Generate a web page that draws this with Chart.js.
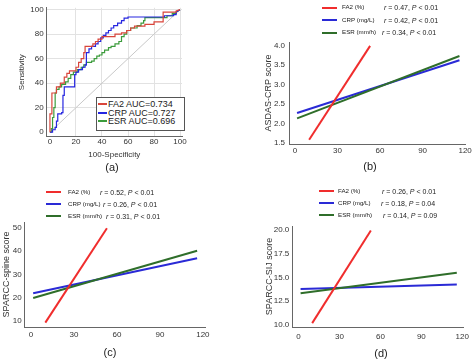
<!DOCTYPE html>
<html><head><meta charset="utf-8">
<script src="https://cdn.jsdelivr.net/npm/chart.js@4/dist/chart.umd.min.js"></script>
<style>
html,body{margin:0;padding:0;background:#fff;width:474px;height:359px;overflow:hidden;font-family:"Liberation Sans",Arial,sans-serif;}
canvas{position:absolute;left:0;top:0;}
.t{position:absolute;white-space:nowrap;color:#222;line-height:1;}
.c{transform:translate(-50%,-50%);}
.l{transform:translateY(-50%);}
.sw{position:absolute;height:1.5px;}
.box{position:absolute;border:1px solid #555;background:#fff;}
</style></head><body>
<canvas id="ca" width="474" height="359"></canvas>
<canvas id="cb" width="474" height="359"></canvas>
<canvas id="cc" width="474" height="359"></canvas>
<canvas id="cd" width="474" height="359"></canvas>
<div id="overlay"></div>
<script>
// ---------- DATA ----------
// Panel (a): ROC curves (x = 100-Specificity, y = Sensitivity)
const rocFA2X = [0,0,1.5,1.5,5,5,8,8,11,11,13,13,15,15,20,20,22,22,24,24,26,26,27,27,33,33,35,35,37,37,40,40,50,50,55,55,59,59,62,62,65,65,73,73,80,80,87,87,97,97,100];
const rocFA2Y = [0,15,15,32,32,37,37,40,40,45,45,48,48,50,50,53,53,57,57,60,60,65,65,70,70,72,72,74,74,76,76,78,78,80,80,81,81,83,83,85,85,86.6,86.6,88,88,90,90,98,98,99,100];
const rocCRPX = [0,2,2,4,4,5,5,6,6,9,9,10,10,11,11,19,19,20,20,22,22,25,25,27,27,28,28,30,30,32,32,35,35,37,37,39,39,41,41,43,43,45,45,47,47,49,49,52,52,55,55,57,57,60,60,88,88,95,95,97,97,100];
const rocCRPY = [0,0,2,2,4,4,9,9,15,15,16,16,30,30,37,37,47,47,49,49,51,51,53,53,55,55,65,65,68,68,70,70,72,72,74,74,77,77,79,79,81,81,83,83,85,85,87,87,89,89,91,91,93,93,94,94,95,95,96,96,98,100];
const rocESRX = [0,1,1,2,2,3,3,4,4,5,5,7,7,9,9,12,12,14,14,16,16,18,18,21,21,24,24,26,26,28,28,32,32,34,34,36,36,38,38,40,40,42,42,45,45,47,47,50,50,53,53,55,55,57,57,59,59,62,62,67,67,70,70,72,72,73,73,90,90,94,94,97,97,100];
const rocESRY = [0,0,3,3,12,12,20,20,32,32,35,35,37,37,39,39,41,41,44,44,47,47,49,49,51,51,53,53,55,55,57,57,58,58,60,60,62,62,63,63,65,65,67,67,69,69,70,70,72,72,74,74,78,78,80,80,83,83,85,85,87,87,89,89,91,91,93.5,93.5,95,95,97,97,98,100];
const rocNames = ['FA2 AUC=0.734','CRP AUC=0.727','ESR AUC=0.696'];
const rocTicks = [0,20,40,60,80,100];

// Panels (b)-(d): fitted regression lines (x = marker value)
const markerNames = ['FA2 (%)','CRP (mg/L)','ESR (mm/h)'];
const fa2Range = [10, 53];
const crpRange = [1.5, 116];
const esrRange = [1.5, 116];
const regTicksX = [0,30,60,90,120];

const asdasFA2 = [1.58, 4.0];
const asdasCRP = [2.27, 3.63];
const asdasESR = [2.13, 3.74];
const asdasTicks = [1.5,2.0,2.5,3.0,3.5,4.0];
const asdasR = ['0.47','0.42','0.34'];
const asdasP = ['< 0.01','< 0.01','< 0.01'];

const spineFA2 = [9.3, 49.9];
const spineCRP = [21.9, 37.0];
const spineESR = [19.9, 40.2];
const spineTicks = [10,20,30,40,50];
const spineR = ['0.52','0.26','0.31'];
const spineP = ['< 0.01','< 0.01','< 0.01'];

const sijFA2 = [10.2, 19.95];
const sijCRP = [13.8, 14.25];
const sijESR = [13.35, 15.5];
const sijTicks = [10.0,12.5,15.0,17.5,20.0];
const sijR = ['0.26','0.18','0.14'];
const sijP = ['< 0.01','= 0.04','= 0.09'];

// ---------- HELPERS ----------
const PW = 474, PH = 359;
const FAM = '"Liberation Sans", Arial, sans-serif';
const TXT = '#333';
function frame(a, yW, xH){ return {left:a.left - yW, top:a.top, right:PW - a.right, bottom:PH - a.bottom - xH}; }
function fixedTicks(list){ return s => { s.ticks = list.map(v => ({value:v})); }; }
function fitW(w){ return s => { s.width = w; }; }
function fitH(h){ return s => { s.height = h; }; }
function pts(xs, ys){ return xs.map((x,i) => ({x:x, y:ys[i]})); }
function line(xs, ys, color, w){ return {data:pts(xs,ys), showLine:true, borderColor:color, backgroundColor:color, borderWidth:w, pointRadius:0, fill:false, tension:0}; }

const ROC_COL = ['#d9453b','#2626e0','#3c9c3c'];
const REG_COL = ['#f02d2d','#2a2ad6','#2f6e2a'];

// ---------- PANEL (a) ----------
const aArea = {left:46.7, top:3.1, right:182, bottom:136.5};
new Chart(document.getElementById('ca'), {
  type:'scatter',
  data:{datasets:[
    line(rocFA2X, rocFA2Y, ROC_COL[0], 1.2),
    line(rocCRPX, rocCRPY, ROC_COL[1], 1.2),
    line(rocESRX, rocESRY, ROC_COL[2], 1.2),
    line([0,100],[0,100], '#c8c8c8', 1)
  ]},
  options:{
    responsive:false, animation:false, events:[],
    layout:{padding:frame(aArea, 29.5, 23.3)},
    plugins:{legend:{display:false}, tooltip:{enabled:false}},
    scales:{
      x:{type:'linear', min:-2.5, max:101.5, afterBuildTicks:fixedTicks(rocTicks), afterFit:fitH(23.3),
        grid:{color:c => (c.tick && c.tick.value === 0) ? 'rgba(0,0,0,0)' : '#e2e2e2', drawTicks:false},
        border:{display:true, color:'#666'},
        ticks:{padding:0, autoSkip:false, maxRotation:0, color:TXT, font:{size:8, family:FAM}},
        title:{display:true, text:'100-Specificity', color:TXT, padding:0, font:{size:8, family:FAM}}},
      y:{type:'linear', min:-3.5, max:101.5, afterBuildTicks:fixedTicks(rocTicks), afterFit:fitW(29.5),
        grid:{color:c => (c.tick && c.tick.value === 0) ? 'rgba(0,0,0,0)' : '#e2e2e2', drawTicks:false},
        border:{display:true, color:'#666'},
        ticks:{padding:3, autoSkip:false, color:TXT, font:{size:8, family:FAM}},
        title:{display:true, text:'Sensitivity', color:TXT, padding:0, font:{size:8, family:FAM}}}
    }
  }
});

// ---------- regression panels ----------
function regChart(id, area, yW, xH, xMin, xMax, yMin, yMax, yTicks, fa2, crp, esr, yTitle, yDec, yPad, xPad){
  new Chart(document.getElementById(id), {
    type:'scatter',
    data:{datasets:[
      line(fa2Range, fa2, REG_COL[0], 2),
      line(esrRange, esr, REG_COL[2], 2),
      line(crpRange, crp, REG_COL[1], 2)
    ]},
    options:{
      responsive:false, animation:false, events:[],
      layout:{padding:frame(area, yW, xH)},
      plugins:{legend:{display:false}, tooltip:{enabled:false}},
      scales:{
        x:{type:'linear', min:xMin, max:xMax, afterBuildTicks:fixedTicks(regTicksX), afterFit:fitH(xH),
          grid:{display:false, drawTicks:false},
          border:{display:true, color:'#666'},
          ticks:{padding:xPad, autoSkip:false, maxRotation:0, color:TXT, font:{size:8, family:FAM}}},
        y:{type:'linear', min:yMin, max:yMax, afterBuildTicks:fixedTicks(yTicks), afterFit:fitW(yW),
          grid:{display:false, drawTicks:false},
          border:{display:true, color:'#666'},
          ticks:{padding:yPad, autoSkip:false, color:TXT, font:{size:8, family:FAM},
            callback:v => yDec ? Number(v).toFixed(1) : String(v)},
          title:{display:true, text:yTitle, color:TXT, padding:0, font:{size:9, family:FAM}}}
      }
    }
  });
}
regChart('cb', {left:289, top:42, right:467, bottom:144}, 25.4, 15, -4.2, 120, 1.47, 4.1, asdasTicks, asdasFA2, asdasCRP, asdasESR, 'ASDAS-CRP score', true, 4, 2.2);
regChart('cc', {left:24, top:222, right:205, bottom:327}, 22.4, 15, -4.9, 121.5, 7.4, 52.6, spineTicks, spineFA2, spineCRP, spineESR, 'SPARCC-spine score', false, 2.3, 3.2);
regChart('cd', {left:292, top:226, right:467, bottom:327}, 27.4, 16, -4.8, 121.2, 9.79, 20.42, sijTicks, sijFA2, sijCRP, sijESR, 'SPARCC-SIJ score', true, 2.7, 5);

// ---------- text overlays (legends, captions) ----------
const ov = document.getElementById('overlay');
function txt(html, x, y, size, cls){
  const d = document.createElement('div');
  d.className = 't ' + cls; d.style.left = x + 'px'; d.style.top = y + 'px'; d.style.fontSize = size + 'px';
  d.innerHTML = html; ov.appendChild(d); return d;
}
function sw(x, y, w, color){
  const d = document.createElement('div');
  d.className = 'sw'; d.style.left = Math.round(x) + 'px'; d.style.top = Math.round(y - 0.75) + 'px';
  d.style.width = w + 'px'; d.style.background = color; ov.appendChild(d);
}
// ROC legend
const bx = document.createElement('div');
bx.className = 'box'; bx.style.left = '96px'; bx.style.top = '97px'; bx.style.width = '87px'; bx.style.height = '32px';
ov.appendChild(bx);
const rocRows = [104, 112.5, 121];
rocNames.forEach((n,i) => { sw(98, rocRows[i], 9, ROC_COL[i]); txt(n, 108, rocRows[i], 9, 'l'); });

function regLegend(x0, nameX, rXs, rows, rs, ps){
  markerNames.forEach((n,i) => {
    sw(x0, rows[i], 15, REG_COL[i]);
    txt(n, nameX, rows[i], 6.2, 'l');
    txt('<i>r</i> = ' + rs[i] + ', <i>P</i> ' + ps[i].replace('<','&lt;'), rXs[i], rows[i], 7, 'l');
  });
}
regLegend(322, 342, [384, 384, 382], [7.3, 20, 32.3], asdasR, asdasP);
regLegend(46, 68, [100, 103, 106], [192, 204, 216], spineR, spineP);
regLegend(319, 338, [382, 381, 383], [191, 203, 215], sijR, sijP);

txt('(a)', 112, 167, 11, 'c');
txt('(b)', 370, 166, 11, 'c');
txt('(c)', 110, 352, 11, 'c');
txt('(d)', 381, 353, 11, 'c');
</script>
</body></html>
